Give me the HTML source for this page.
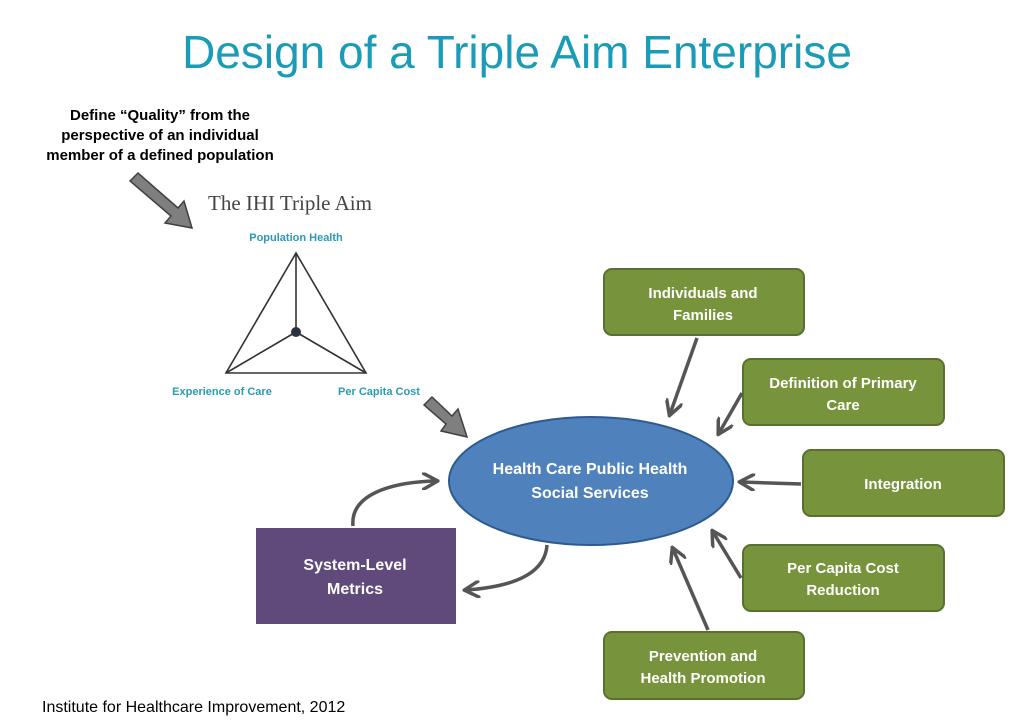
<!DOCTYPE html>
<html><head><meta charset="utf-8"><style>
body{margin:0;width:1015px;height:726px;background:#fff;overflow:hidden}
svg{display:block}
</style></head><body>
<svg width="1015" height="726" viewBox="0 0 1015 726" xmlns="http://www.w3.org/2000/svg">
<defs>
<marker id="ah" viewBox="0 0 10 10" refX="8" refY="5" markerWidth="5" markerHeight="5" orient="auto"><path d="M0,0 L9,5 L0,10" fill="none" stroke="#555" stroke-width="2"/></marker>
</defs>
<text x="517" y="68" text-anchor="middle" font-family="Liberation Sans,sans-serif" font-size="46" fill="#1a9bb8">Design of a Triple Aim Enterprise</text>
<g font-family="Liberation Sans,sans-serif" font-size="15" font-weight="bold" fill="#000" text-anchor="middle">
<text x="160" y="120">Define “Quality” from the</text>
<text x="160" y="140">perspective of an individual</text>
<text x="160" y="160">member of a defined population</text>
</g>
<!-- block arrows -->
<g fill="#7f7f7f" stroke="#404040" stroke-width="1.5">
<polygon points="130,181 138,173 178,208 184,201 192,228 165,223 171,216"/>
<polygon points="424,405 432,397 452,416 458,409 467,437 441,431 446,424"/>
</g>
<text x="208" y="210" font-family="Liberation Serif,serif" font-size="21" fill="#444">The IHI Triple Aim</text>
<g font-family="Liberation Sans,sans-serif" font-size="11" font-weight="bold" fill="#2a9bb5" text-anchor="middle">
<text x="296" y="241">Population Health</text>
<text x="222" y="395">Experience of Care</text>
<text x="379" y="395">Per Capita Cost</text>
</g>
<g stroke="#333" stroke-width="1.6" fill="none">
<polygon points="296,253 226,373 366,373"/>
<line x1="296" y1="253" x2="296" y2="332"/>
<line x1="296" y1="332" x2="226" y2="373"/>
<line x1="296" y1="332" x2="366" y2="373"/>
</g>
<circle cx="296" cy="332" r="5" fill="#2a3340"/>
<!-- ellipse -->
<ellipse cx="591" cy="481" rx="142" ry="64" fill="#4f81bd" stroke="#2e5b8f" stroke-width="2"/>
<g font-family="Liberation Sans,sans-serif" font-size="16" font-weight="bold" fill="#fff" text-anchor="middle">
<text x="590" y="474">Health Care   Public Health</text>
<text x="590" y="498">Social Services</text>
</g>
<rect x="256" y="528" width="200" height="96" fill="#604a7b"/>
<g font-family="Liberation Sans,sans-serif" font-size="16" font-weight="bold" fill="#fff" text-anchor="middle">
<text x="355" y="570">System-Level</text>
<text x="355" y="594">Metrics</text>
</g>
<g fill="#77933c" stroke="#5a7030" stroke-width="2">
<rect x="604" y="269" width="200" height="66" rx="8"/>
<rect x="743" y="359" width="201" height="66" rx="8"/>
<rect x="803" y="450" width="201" height="66" rx="8"/>
<rect x="743" y="545" width="201" height="66" rx="8"/>
<rect x="604" y="632" width="200" height="67" rx="8"/>
</g>
<g font-family="Liberation Sans,sans-serif" font-size="15" font-weight="bold" fill="#fff" text-anchor="middle">
<text x="703" y="298">Individuals and</text><text x="703" y="320">Families</text>
<text x="843" y="388">Definition of Primary</text><text x="843" y="410">Care</text>
<text x="903" y="489">Integration</text>
<text x="843" y="573">Per Capita Cost</text><text x="843" y="595">Reduction</text>
<text x="703" y="661">Prevention and</text><text x="703" y="683">Health Promotion</text>
</g>
<g stroke="#555" stroke-width="3.5" fill="none" marker-end="url(#ah)">
<line x1="697" y1="338" x2="670" y2="414"/>
<line x1="742" y1="393" x2="719" y2="433"/>
<line x1="801" y1="484" x2="741" y2="482"/>
<line x1="741" y1="578" x2="713" y2="532"/>
<line x1="708" y1="630" x2="673" y2="549"/>
<path d="M353,526 C350,495 390,482 436,481"/>
<path d="M547,545 C545,575 510,587 466,590"/>
</g>
<text x="42" y="712" font-family="Liberation Sans,sans-serif" font-size="16" fill="#000">Institute for Healthcare Improvement, 2012</text>
</svg>
</body></html>
